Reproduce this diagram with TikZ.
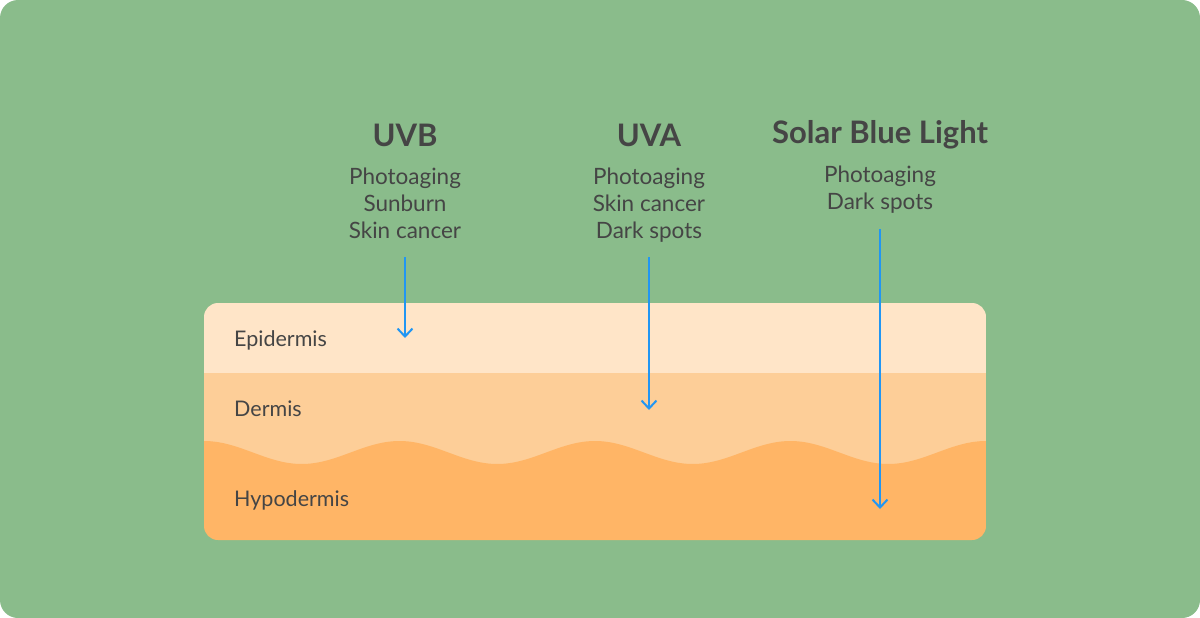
\documentclass[tikz,border=0pt]{standalone}
\usepackage{fontspec}
\setmainfont{Lato}
\usetikzlibrary{arrows.meta}
\definecolor{bggreen}{HTML}{8ABC8B}
\definecolor{epi}{HTML}{FFE5C8}
\definecolor{der}{HTML}{FDCE98}
\definecolor{hypo}{HTML}{FFB566}
\definecolor{ray}{HTML}{2196F3}
\definecolor{ink}{HTML}{454545}
\begin{document}
\begin{tikzpicture}[
		x=1pt, y=-1pt,
		title/.style={font=\fontsize{31}{34}\selectfont\bfseries, text=ink},
		effect/.style={font=\fontsize{22.5}{27}\selectfont, text=ink, align=center, anchor=north, inner sep=0pt},
		layer/.style={font=\fontsize{21.5}{24}\selectfont, text=ink, anchor=west, inner sep=0pt},
		ray/.style={draw=ray, line width=2pt, -{Straight Barb[length=8pt,width=15pt]}},
	]
		\useasboundingbox (0,0) rectangle (1200,618);
		\fill[bggreen, rounded corners=18pt] (0,0) rectangle (1200,618);

		% skin layers
		\begin{scope}
			\clip[rounded corners=14pt] (204,303) rectangle (986,540);
			\fill[epi] (204,303) rectangle (986,373);
			\fill[der] (204,373) rectangle (986,470);
			\fill[hypo] plot[domain=204:986, samples=120, smooth] (\x,{452.5-11.5*cos((\x-204)/195.5*360)})
				-- (986,540) -- (204,540) -- cycle;
		\end{scope}

		\node (epidermis) [layer] at (234,340) {Epidermis};
		\node (dermis) [layer] at (234,409) {Dermis};
		\node (hypodermis) [layer] at (234,500) {Hypodermis};

		% light sources
		\node (uvb) [title] at (405,135) {UVB};
		\node (uvbfx) [effect] at (405,168) {Photoaging\\Sunburn\\Skin cancer};
		\node (uva) [title] at (649,135) {UVA};
		\node (uvafx) [effect] at (649,168) {Photoaging\\Skin cancer\\Dark spots};
		\node (blue) [title] at (880,135) {Solar Blue Light};
		\node (bluefx) [effect] at (880,166) {Photoaging\\Dark spots};

		\coordinate (uvbend) at (405,338);
		\coordinate (uvaend) at (649,410);
		\coordinate (blueend) at (880,509);
		\draw[ray] (uvbfx.south |- 0,257) -- (uvbend);
		\draw[ray] (uvafx.south |- 0,257) -- (uvaend);
		\draw[ray] (bluefx.south |- 0,229) -- (blueend);
	\end{tikzpicture}
\end{document}
